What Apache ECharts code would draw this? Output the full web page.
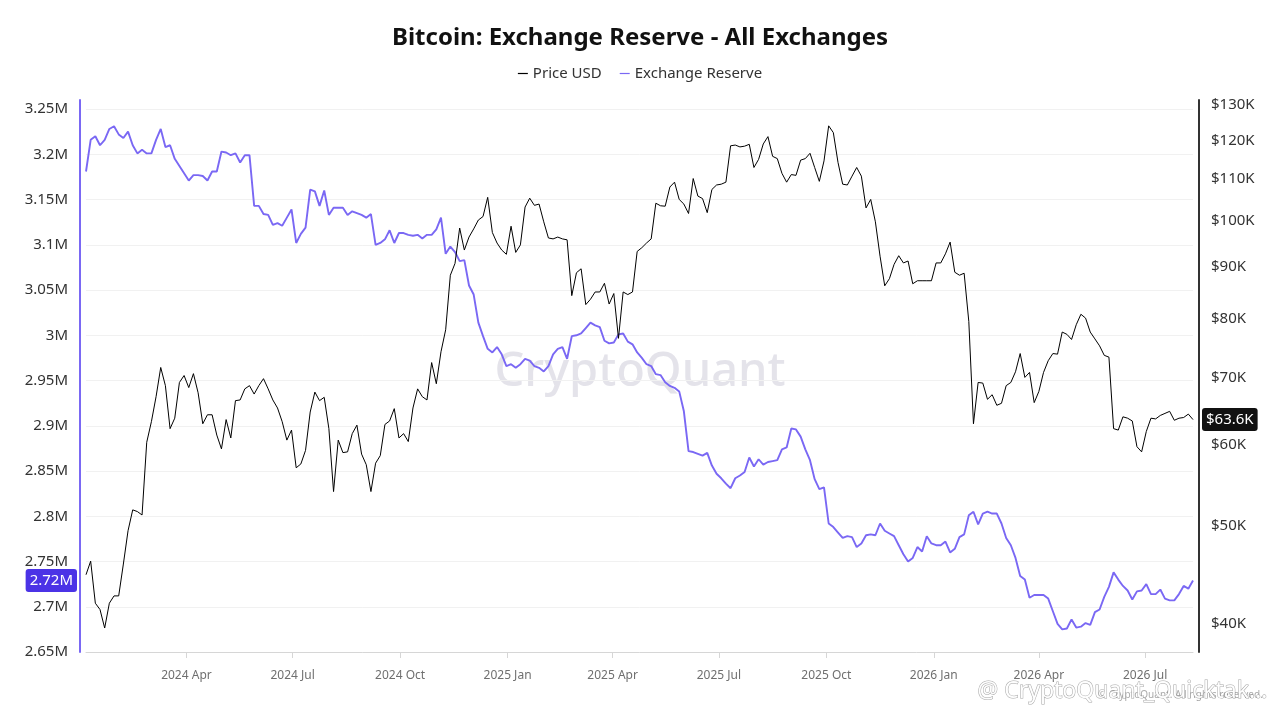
<!DOCTYPE html>
<html>
<head>
<meta charset="utf-8">
<script src="https://cdn.jsdelivr.net/npm/echarts@6/dist/echarts.min.js"></script>
<style>
html,body{margin:0;padding:0;background:#fff;}
#chart{width:1280px;height:720px;}
</style>
</head>
<body>
<div id="chart"></div>
<script>
// ---- data (4-day samples from 2024-01-06) ----
const startYear = 2024, startMonth = 0, startDay = 6, stepDays = 4;

// Exchange reserve, in millions of BTC
const reserveValues = [
3.181,3.216,3.220,3.210,3.216,3.228,3.231,3.222,3.218,3.225,
3.210,3.201,3.205,3.201,3.201,3.216,3.228,3.208,3.210,3.195,
3.187,3.179,3.171,3.177,3.177,3.176,3.171,3.181,3.181,3.203,
3.202,3.199,3.201,3.191,3.199,3.199,3.143,3.143,3.134,3.133,
3.122,3.124,3.121,3.130,3.139,3.102,3.112,3.119,3.161,3.159,
3.143,3.160,3.133,3.141,3.141,3.141,3.133,3.137,3.135,3.133,
3.130,3.134,3.100,3.102,3.106,3.116,3.102,3.113,3.113,3.111,
3.110,3.111,3.107,3.111,3.111,3.117,3.130,3.090,3.098,3.092,
3.082,3.083,3.055,3.045,3.014,2.999,2.985,2.981,2.987,2.979,
2.966,2.968,2.964,2.968,2.974,2.972,2.966,2.964,2.960,2.966,
2.979,2.985,2.987,2.974,2.999,3.000,3.002,3.008,3.014,3.011,
3.009,2.994,2.991,2.992,3.001,3.002,2.993,2.990,2.981,2.975,
2.968,2.966,2.957,2.956,2.948,2.944,2.942,2.938,2.916,2.872,
2.871,2.869,2.867,2.870,2.856,2.847,2.842,2.836,2.831,2.842,
2.845,2.849,2.865,2.855,2.863,2.857,2.860,2.861,2.862,2.874,
2.876,2.897,2.896,2.888,2.874,2.862,2.841,2.830,2.832,2.792,
2.788,2.782,2.776,2.778,2.777,2.766,2.770,2.779,2.780,2.779,
2.792,2.784,2.781,2.778,2.768,2.758,2.750,2.754,2.766,2.761,
2.778,2.770,2.768,2.768,2.772,2.760,2.764,2.777,2.780,2.801,
2.805,2.791,2.803,2.805,2.803,2.803,2.792,2.776,2.768,2.754,
2.734,2.730,2.710,2.713,2.713,2.713,2.709,2.695,2.681,2.675,
2.676,2.686,2.677,2.678,2.682,2.680,2.694,2.697,2.711,2.722,
2.738,2.730,2.723,2.718,2.708,2.717,2.718,2.725,2.714,2.714,
2.719,2.709,2.707,2.707,2.714,2.723,2.720,2.729
];

// BTC price, in thousands of USD
const priceValues = [
44.7,46.1,41.9,41.3,39.6,41.9,42.6,42.6,45.8,49.4,
51.8,51.6,51.2,60.4,63.3,67.0,71.6,68.7,62.3,63.8,
69.2,70.3,68.4,70.6,67.6,63.0,64.3,64.3,61.4,59.5,
63.6,61.0,66.4,66.5,68.2,68.7,67.4,68.7,69.8,68.2,
66.5,65.3,63.3,60.7,62.1,57.0,57.5,59.3,64.7,67.7,
66.4,66.9,62.3,54.0,60.7,59.0,59.1,61.6,62.8,58.8,
57.4,54.0,57.6,58.6,62.9,63.4,65.2,61.0,61.6,60.5,
65.3,68.2,67.0,66.5,72.4,69.0,74.2,78.0,88.3,90.7,
98.3,93.5,96.3,98.1,100.1,100.9,105.4,97.3,95.0,93.5,
92.6,98.7,93.0,94.6,103.1,105.2,103.5,103.8,99.7,96.1,
95.9,96.3,95.9,95.7,84.3,88.8,89.6,82.6,83.6,85.0,
85.0,86.7,82.7,84.7,76.5,85.0,84.5,85.0,93.2,94.0,
95.0,95.9,104.0,103.4,103.3,107.9,109.1,104.9,103.8,101.6,
110.0,105.7,105.1,101.8,107.3,108.4,108.6,109.1,118.5,118.7,
118.2,118.4,118.9,112.8,114.9,119.0,121.0,115.7,115.1,111.3,
109.1,111.0,110.8,114.7,115.1,116.5,112.8,109.3,114.5,124.0,
122.1,114.1,108.6,108.4,110.6,112.8,110.6,102.9,104.9,99.7,
92.2,86.2,87.6,90.5,92.3,90.8,91.2,86.6,87.2,87.2,
87.2,87.2,90.8,90.8,92.7,95.2,88.9,88.3,88.7,79.5,
63.0,69.2,69.1,66.6,67.3,65.7,66.0,68.7,69.2,70.9,
73.9,70.0,70.8,66.1,67.8,70.8,72.7,73.9,73.8,77.6,
77.2,76.3,78.9,80.8,80.1,77.6,76.4,75.2,73.6,73.3,
62.3,62.1,64.0,63.8,63.4,59.8,59.1,61.9,63.8,63.7,
64.2,64.5,64.8,63.5,63.8,63.9,64.4,63.6
];

// axis tick labels
const priceTicks = [40,50,60,70,80,90,100,110,120,130];
const monthNames = ['Jan','Feb','Mar','Apr','May','Jun','Jul','Aug','Sep','Oct','Nov','Dec'];
const DAY = 86400000;

// ---- build ----
const dates = reserveValues.map((_, i) => new Date(startYear, startMonth, startDay + stepDays * i).getTime());
const reserveData = dates.map((d, i) => [d, reserveValues[i]]);
const priceData = dates.map((d, i) => [d, priceValues[i]]);
const lastReserve = reserveValues[reserveValues.length - 1];
const lastPrice = priceValues[priceValues.length - 1];

const FONT = "'Noto Sans', 'Open Sans', sans-serif";
const PURPLE = '#7a68f4';

const chart = echarts.init(document.getElementById('chart'));
chart.setOption({
  animation: false,
  backgroundColor: '#ffffff',
  textStyle: { fontFamily: FONT },
  title: {
    text: 'Bitcoin: Exchange Reserve - All Exchanges',
    left: 'center', top: 21,
    textStyle: { fontFamily: FONT, fontSize: 24, fontWeight: 'bold', color: '#111' }
  },
  legend: {
    top: 61, left: 'center',
    icon: 'rect', itemWidth: 10, itemHeight: 1.2, itemGap: 18,
    textStyle: { fontFamily: FONT, fontSize: 15, color: '#333' },
    data: ['Price USD', 'Exchange Reserve']
  },
  grid: { left: 86, right: 87, top: 100, bottom: 68, containLabel: false },
  xAxis: {
    type: 'time',
    min: dates[0], max: dates[dates.length - 1],
    minInterval: 89 * DAY, maxInterval: 93 * DAY,
    axisLine: { show: true, lineStyle: { color: '#d6d6d6', width: 1 } },
    axisTick: { show: true, length: 6, lineStyle: { color: '#d6d6d6' } },
    minorTick: { show: false },
    splitLine: { show: false },
    axisLabel: {
      margin: 18, hideOverlap: false,
      color: '#6f6f6f', fontSize: 12, fontFamily: FONT,
      formatter: v => { const d = new Date(v); return d.getFullYear() + ' ' + monthNames[d.getMonth()]; }
    }
  },
  yAxis: [
    {
      type: 'value', position: 'left', offset: 6,
      min: 2.65, max: 3.26, interval: 0.05,
      axisLine: { show: true, lineStyle: { color: PURPLE, width: 2 } },
      axisTick: { show: false },
      splitLine: { show: true, showMaxLine: false, lineStyle: { color: '#f1f1f1', width: 1 } },
      axisLabel: {
        showMaxLabel: false, margin: 12,
        color: '#333', fontSize: 15, fontFamily: FONT,
        formatter: v => parseFloat(v.toFixed(2)) + 'M'
      },
      axisPointer: {
        show: true, status: 'show', value: lastReserve, snap: false, triggerTooltip: false,
        lineStyle: { opacity: 0 },
        label: {
          show: true, margin: 3, padding: [4, 4, 4, 4],
          backgroundColor: '#4b33e6', color: '#fff', fontSize: 15, fontFamily: FONT,
          formatter: p => (Math.floor(p.value * 100) / 100).toFixed(2) + 'M'
        }
      }
    },
    {
      type: 'log', logBase: 10, position: 'right', offset: 6,
      min: 37.5, max: 131.5,
      axisLine: { show: true, lineStyle: { color: '#333', width: 2 } },
      axisTick: { show: false, customValues: priceTicks },
      splitLine: { show: false },
      axisLabel: {
        customValues: priceTicks, margin: 12,
        color: '#333', fontSize: 15, fontFamily: FONT,
        formatter: v => '$' + Math.round(v) + 'K'
      },
      axisPointer: {
        show: true, status: 'show', value: lastPrice, snap: false, triggerTooltip: false,
        lineStyle: { opacity: 0 },
        label: {
          show: true, margin: 3, padding: [4, 4, 4, 4],
          backgroundColor: '#111', color: '#fff', fontSize: 15, fontFamily: FONT,
          formatter: p => '$' + p.value.toFixed(1) + 'K'
        }
      }
    }
  ],
  graphic: [
    {
      type: 'text', left: 'center', top: 349, z: 0, silent: true,
      style: { text: 'CryptoQuant', fontFamily: FONT, fontSize: 47, fontWeight: 500, fill: '#e4e3ea' }
    },
    {
      type: 'text', left: 1098, top: 690, z: 0, silent: true,
      style: { text: '© CryptoQuant. All rights reserved.', fontFamily: FONT, fontSize: 10, fill: '#aaa' }
    },
    {
      type: 'text', left: 977, top: 679, z: 100, silent: true,
      style: {
        text: '@ CryptoQuant_Quicktak...', fontFamily: FONT, fontSize: 23,
        fill: 'rgba(255,255,255,0.95)', stroke: 'rgba(90,90,90,0.55)', lineWidth: 1
      }
    }
  ],
  series: [
    {
      name: 'Price USD', type: 'line', yAxisIndex: 1, data: priceData,
      showSymbol: false, symbol: 'none', z: 3,
      lineStyle: { color: '#000', width: 1 }, itemStyle: { color: '#000' }
    },
    {
      name: 'Exchange Reserve', type: 'line', yAxisIndex: 0, data: reserveData,
      showSymbol: false, symbol: 'none', z: 2,
      lineStyle: { color: PURPLE, width: 1.9 }, itemStyle: { color: PURPLE }
    }
  ]
});
</script>
</body>
</html>
